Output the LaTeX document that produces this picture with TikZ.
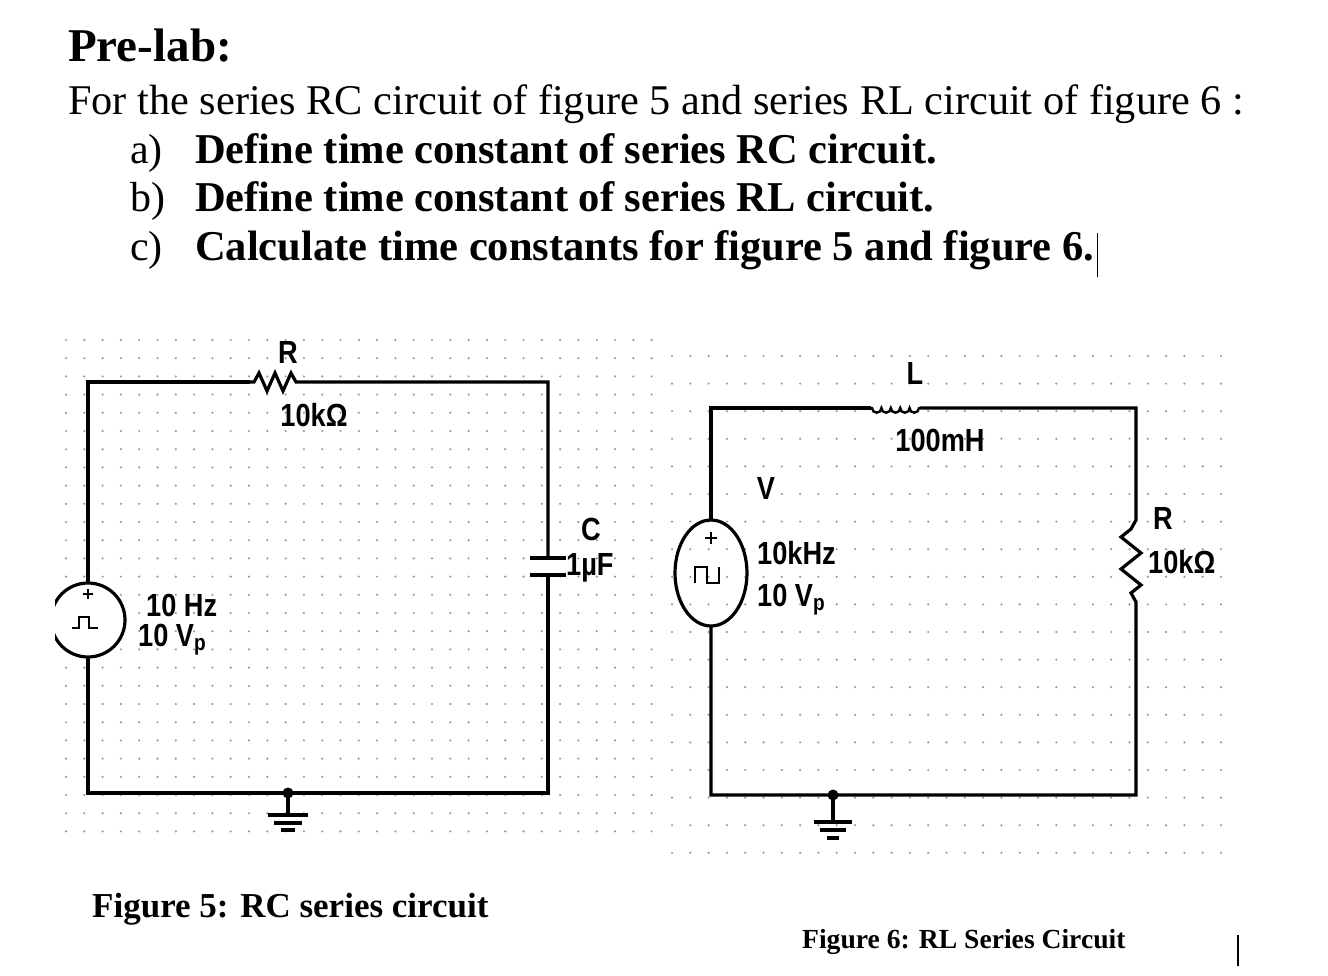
\documentclass[tikz,border=0pt]{standalone}
\usepackage{fontspec}
\setmainfont{Liberation Serif}
\setsansfont{Liberation Sans}
\begin{document}
\begin{tikzpicture}[x=1pt,y=-1pt,
  wire/.style={line width=3.2pt},
  lab/.style={font=\sffamily\bfseries\fontsize{32}{34}\selectfont, inner sep=0pt, xscale=0.85},
  dotc/.style={fill=gray!80}]
\useasboundingbox (0,0) rectangle (1328,976);
% text
\node[anchor=base west,inner sep=0pt,font=\bfseries\fontsize{47}{50}\selectfont] (t0) at (68,62) {Pre-lab:};
\node[anchor=base west,inner sep=0pt,font=\fontsize{42.3}{46}\selectfont] (t1) at (68,115) {For the series RC circuit of figure 5 and series RL circuit of figure 6 :};
\node[anchor=base west,inner sep=0pt,font=\fontsize{42}{46}\selectfont] (a) at (130,164) {a)};
\node[anchor=base west,inner sep=0pt,font=\bfseries\fontsize{42.5}{46}\selectfont] (ta) at (195,164) {Define time constant of series RC circuit.};
\node[anchor=base west,inner sep=0pt,font=\fontsize{42}{46}\selectfont] (b) at (130,212) {b)};
\node[anchor=base west,inner sep=0pt,font=\bfseries\fontsize{42.5}{46}\selectfont] (tb) at (195,212) {Define time constant of series RL circuit.};
\node[anchor=base west,inner sep=0pt,font=\fontsize{42}{46}\selectfont] (c) at (130,261) {c)};
\node[anchor=base west,inner sep=0pt,font=\bfseries\fontsize{42.5}{46}\selectfont] (tc) at (195,261) {Calculate time constants for figure 5 and figure 6.};
\draw[line width=1.5pt] (tc.north east)++(3,2) coordinate (cur1) -- ++(0,44) coordinate (cur2);
\node[anchor=base west,inner sep=0pt,font=\bfseries\fontsize{35}{38}\selectfont] (f5) at (92,917) {Figure 5: RC series circuit};
\node[anchor=base west,inner sep=0pt,font=\bfseries\fontsize{27.6}{30}\selectfont] (f6) at (802,948) {Figure 6: RL Series Circuit};
\draw[line width=1.5pt] (1238,935) coordinate (bar1) -- (1238,966) coordinate (bar2);
% dot grids
\foreach \i in {0,...,32} \foreach \j in {0,...,27}
  \fill[dotc] (66+\i*18.3, 340+\j*18.2) circle (1.2);
\foreach \i in {0,...,30} \foreach \j in {0,...,18}
  \fill[dotc] (672+\i*18.3, 356+\j*27.6) circle (1.2);
% ---------- Figure 5 ----------
\coordinate (ltl) at (88,382); \coordinate (ltr) at (548,382);
\coordinate (lbl) at (88,793); \coordinate (lbr) at (548,793);
\coordinate (r1a) at (250,382); \coordinate (r1b) at (302,382);
\coordinate (c1a) at (548,558); \coordinate (c1b) at (548,575);
\coordinate (gl) at (288,793);
\begin{scope}
\clip (55,0) rectangle (1328,976);
\draw[wire,fill=white] (88,620) circle (37);
\end{scope}
\coordinate (s1t) at (88,583); \coordinate (s1b) at (88,657);
\draw[wire] (s1t) -- (ltl) -- (r1a);
\draw[wire] (r1a) -- ++(4,0) -- ++(5,-9) -- ++(8,18) -- ++(8,-18) -- ++(8,18) -- ++(8,-18) -- ++(5,9) -- (r1b) -- (ltr) -- (c1a);
\draw[line width=4pt] (530,558) -- (566,558); \draw[line width=4pt] (530,575) -- (566,575);
\draw[wire] (c1b) -- (lbr) -- (lbl) -- (s1b);
\fill (gl) circle (5.5);
\draw[wire] (gl) -- (288,815);
\draw[wire] (268,815) -- (308,815); \draw[wire] (274,823) -- (302,823); \draw[wire] (281,830) -- (295,830);
\draw[line width=2pt] (88,589) coordinate (p1) -- (88,599) (83,594) -- (93,594);
\draw[line width=2pt] (72,628) -- (79,628) -- (79,617) -- (89,617) -- (89,628) -- (98,628);
\node[lab] (rl1) at (288,352) {R};
\node[lab] (rv1) at (314,415) {10kΩ};
\node[lab] (cl1) at (591,529) {C};
\node[lab,anchor=west] (cv1) at (566,568) {1µF};
\node[lab,anchor=west] (sv1) at (146,605) {10 Hz};
\node[lab,anchor=west] (sv1b) at (138,640) {10 V\textsubscript{p}};
% ---------- Figure 6 ----------
\coordinate (rtl) at (711,408); \coordinate (rtr) at (1136,408);
\coordinate (rbl) at (711,795); \coordinate (rbr) at (1136,795);
\coordinate (la) at (871,408); \coordinate (lb) at (920,408);
\coordinate (r2a) at (1136,520); \coordinate (r2b) at (1136,602);
\coordinate (gr) at (833,795);
\draw[wire] (711,573) ellipse (36 and 53);
\coordinate (s2t) at (711,520); \coordinate (s2b) at (711,626);
\draw[wire] (s2t) -- (rtl) -- (la);
\draw[line width=2.4pt] (la) -- ++(1,0) arc (180:0:4.7) arc (180:0:4.7) arc (180:0:4.7) arc (180:0:4.7) arc (180:0:4.7) -- (lb);
\draw[wire] (lb) -- (rtr) -- (r2a) -- ++(-5,9) -- ++(-10,8) -- ++(20,16) -- ++(-20,16) -- ++(20,16) -- ++(-10,8) -- (r2b) -- (rbr) -- (rbl) -- (s2b);
\fill (gr) circle (5.5);
\draw[wire] (gr) -- (833,822);
\draw[wire] (814,822) -- (852,822); \draw[wire] (820,830) -- (846,830); \draw[wire] (827,838) -- (839,838);
\draw[line width=2pt] (711,532) coordinate (p2) -- (711,544) (705,538) -- (717,538);
\draw[line width=2pt] (695,583) -- (695,567) -- (707,567) -- (707,583) -- (719,583) -- (719,567);
\node[lab] (ll) at (915,373) {L};
\node[lab] (lv) at (940,440) {100mH};
\node[lab] (vl) at (766,488) {V};
\node[lab,anchor=west] (sv2) at (757,553) {10kHz};
\node[lab,anchor=west] (sv2b) at (757,600) {10 V\textsubscript{p}};
\node[lab] (rl2) at (1163,518) {R};
\node[lab,anchor=west] (rv2) at (1148,562) {10kΩ};
\end{tikzpicture}
\end{document}
